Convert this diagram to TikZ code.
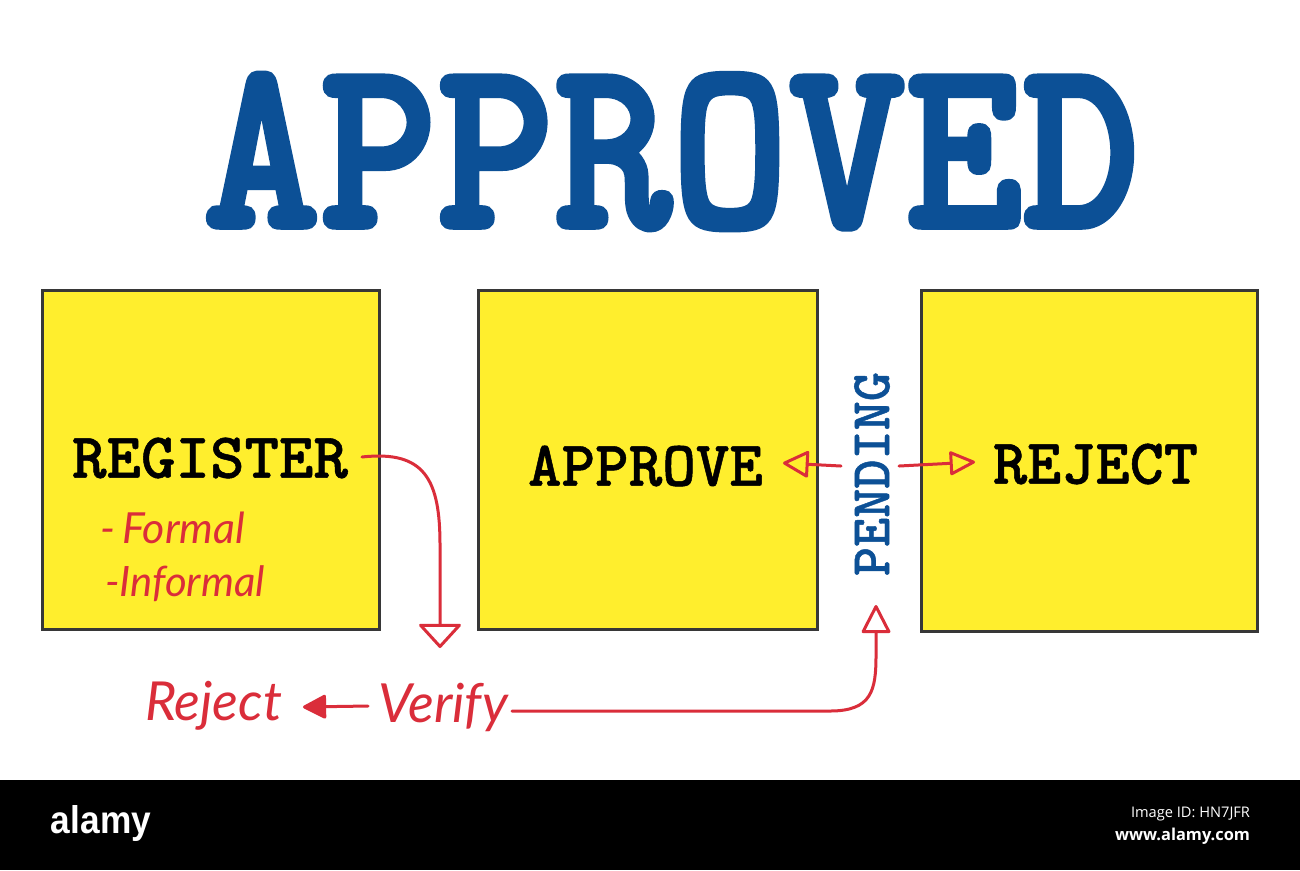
\documentclass[tikz,border=0pt]{standalone}
\usepackage{fontspec}
\usetikzlibrary{arrows.meta,calc}
\newfontfamily\handfont{Lato}
\newfontfamily\wmfont{Open Sans}
\newfontfamily\logofont{Liberation Sans}
\newfontfamily\titlefont{lmmonolt10-bold.otf}[FakeBold=2.5]
\newfontfamily\boxfont{lmmonolt10-bold.otf}[FakeBold=0.8]
\definecolor{ttlblue}{RGB}{12,80,150}
\definecolor{stickyyellow}{RGB}{255,238,45}
\definecolor{penred}{RGB}{218,45,58}
\definecolor{boxgray}{RGB}{55,55,55}
\tikzset{
  sticky/.style={draw=boxgray, line width=0.06cm, fill=stickyyellow, inner sep=0pt},
  plain/.style={inner sep=0pt, outer sep=0pt},
  penline/.style={draw=penred, line width=0.06cm, line cap=round, line join=round},
}
\begin{document}
\begin{tikzpicture}[x=0.02cm, y=-0.02cm]
\useasboundingbox (0,0) rectangle (1300,870);
\fill[white] (0,0) rectangle (1300,870);

% title
\node[plain, text=ttlblue] (title) at (671.5,151.5) {\resizebox{18.74cm}{3.06cm}{\titlefont APPROVED}};

% sticky notes
\node[sticky, minimum width=6.76cm, minimum height=6.8cm] (b1) at (211,460) {};
\node[sticky, minimum width=6.8cm, minimum height=6.8cm] (b2) at (648,460) {};
\node[sticky, minimum width=6.74cm, minimum height=6.84cm] (b3) at (1089.5,461) {};

% box texts
\node[plain] (reg) at (210,458) {\resizebox{5.52cm}{0.8cm}{\boxfont REGISTER}};
\node[plain] (appr) at (645.5,466) {\resizebox{4.7cm}{0.8cm}{\boxfont APPROVE}};
\node[plain] (rej) at (1095.5,464) {\resizebox{4.1cm}{0.8cm}{\boxfont REJECT}};

% pending
\node[plain, text=ttlblue, rotate=90] (pend) at (872,474) {\resizebox{4.08cm}{0.7cm}{\boxfont PENDING}};

% handwritten notes
\node[plain, text=penred, anchor=base west] (formal) at (100,543) {\resizebox{2.9cm}{!}{\handfont\itshape -\,Formal}};
\node[plain, text=penred, anchor=base west] (informal) at (105,596) {\resizebox{3.2cm}{!}{\handfont\itshape -Informal}};
\node[plain, text=penred, anchor=base west] (rejh) at (145,720) {\resizebox{2.74cm}{!}{\handfont\itshape Reject}};
\node[plain, text=penred, anchor=base west] (verify) at (378,722) {\resizebox{2.6cm}{!}{\handfont\itshape Verify}};

% connectors
\coordinate (regend) at (440,648);
\draw[penline, -{Triangle[open, length=0.5cm, width=0.9cm, round]}]
  ($(reg.east)+(14,-1)$) .. controls (425,450) and (440,480) .. (440,545) -- (regend);
\draw[penline, -{Triangle[open, length=0.55cm, width=0.56cm, round]}]
  ($(pend.center)+(-31,-8)$) -- ($(appr.east)+(20,-3)$);
\draw[penline, -{Triangle[open, length=0.55cm, width=0.5cm, round]}]
  ($(pend.center)+(27,-8)$) -- ($(rej.west)+(-18,-2)$);
\draw[penline, -{Triangle[length=0.5cm, width=0.5cm, round]}]
  ($(verify.base west)+(-10,-16)$) -- ($(rejh.base east)+(21,-13)$);
\draw[penline, -{Triangle[open, length=0.6cm, width=0.6cm, round]}]
  ($(verify.base east)+(4,-11)$) -- (830,711) .. controls (872,711) and (876,690) .. (876,655) -- ($(pend.center)+(4,131)$);

% bottom bar
\fill[black] (0,780) rectangle (1300,870);
\node[plain, text=white, anchor=base west] (wm1) at (51,833) {\resizebox{2cm}{0.56cm}{\logofont\bfseries alamy}};
\node[plain, text=white, anchor=base east] (wm2) at (1250,817) {\resizebox{2.38cm}{!}{\wmfont Image ID: HN7JFR}};
\node[plain, text=white, anchor=base east] (wm3) at (1250,840) {\resizebox{2.7cm}{!}{\wmfont\bfseries www.alamy.com}};
\end{tikzpicture}
\end{document}
